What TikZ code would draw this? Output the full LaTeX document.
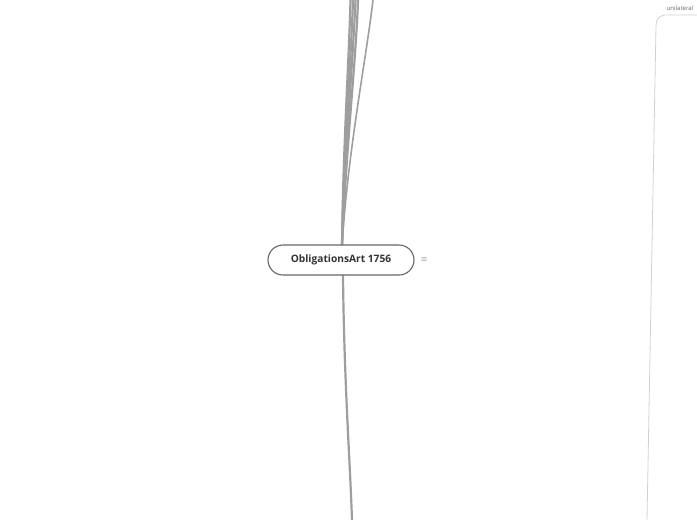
\documentclass[tikz,border=0pt]{standalone}
\usepackage{fontspec}
\setmainfont{Open Sans}
\usetikzlibrary{positioning}
\begin{document}
\begin{tikzpicture}[x=1pt,y=-1pt]
  \tikzset{RootStyle/.style = {shape          = rectangle,
                                 rounded corners = 15pt,
                                 draw           = black!60,
                                 line width     = 1.1pt,
                                 fill           = white,
                                 text           = black!80,
                                 font           = \bfseries\fontsize{10.2}{12}\selectfont,
                                 minimum width  = 146pt,
                                 minimum height = 30pt}}
  \tikzset{BranchStyle/.style   = {line width    = 2.2pt,
                                 draw           = black!38}}
  \tikzset{ThinStyle/.style   = {line width    = 0.8pt,
                                 draw           = black!18}}

\useasboundingbox (0,0) rectangle (697,520);

\coordinate (R1) at (342,246);
\coordinate (R2) at (343,274);
\coordinate (T1) at (350.5,0);
\coordinate (T2) at (353,0);
\coordinate (T3) at (355.5,0);
\coordinate (T4) at (358,0);
\coordinate (T5) at (373,0);
\coordinate (B1) at (352,520);
\coordinate (U1) at (647,520);
\coordinate (U2) at (697,15);

\draw[BranchStyle] (R1) .. controls (343,150) and (349,60) .. (T1);
\draw[BranchStyle] (R1) .. controls (344,150) and (351,60) .. (T2);
\draw[BranchStyle] (R1) .. controls (345,150) and (353,60) .. (T3);
\draw[BranchStyle] (R1) .. controls (346,150) and (356,60) .. (T4);
\draw[BranchStyle, line width=1.6pt] (R1) .. controls (348,150) and (366,60) .. (T5);
\draw[BranchStyle] (R2) .. controls (344,380) and (350,460) .. (B1);

\draw[ThinStyle] (U1) -- (656,26) .. controls (657,18) .. (664,15) -- (U2);

\node[RootStyle] (root) at (341,260) {ObligationsArt 1756};
\node[right=6pt of root.east, anchor=west, text=black!60, font=\fontsize{8}{8}\selectfont, inner sep=0pt] (menu) {$\equiv$};
\node[text=black!60, font=\fontsize{6}{7}\selectfont, inner sep=0pt] (unilateral) at (680,8) {unilateral};

\end{tikzpicture}
\end{document}
